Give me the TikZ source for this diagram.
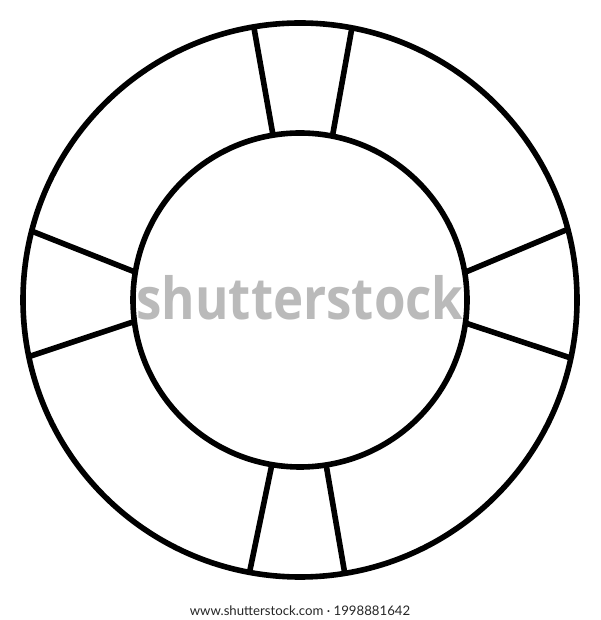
\documentclass[tikz,border=0pt]{standalone}
\usepackage{fontspec}
\newfontfamily\wmfont{Open Sans}
\newfontfamily\credfont{Lato}
\begin{document}
\begin{tikzpicture}[x=1pt,y=1pt,
  ring/.style={draw=black,line width=5.6pt},
  spoke/.style={draw=black,line width=5.6pt,line cap=butt},
  watermark/.style={text=black!27,font=\wmfont\bfseries\fontsize{58}{58}\selectfont,inner sep=0pt,xscale=0.88},
  credit/.style={text=black!85,font=\credfont\fontsize{13.2}{14}\selectfont,inner sep=0pt}]
\fill[white] (0,0) rectangle (600,620);
\useasboundingbox (0,0) rectangle (600,620);
\coordinate (c) at (300,320);
\draw[ring] (c) circle[radius=277];
\draw[ring] (c) circle[radius=167];
\foreach \n/\a/\b in {tl/99.3/99.6, tr/78.8/79.2, lu/170.4/165.6, ll/187.4/191.8,
                      ru/9.5/14.8, rl/-7.9/-12.1, bl/260.3/259.5, br/279.0/279.3}{
  \path (c) ++(\a:167) coordinate (in\n);
  \path (c) ++(\b:277) coordinate (out\n);
  \draw[spoke] (in\n) -- (out\n);
}
\node[watermark,anchor=base] (wm) at (300,300) {shutterstock};
\node[credit,anchor=base] (cred) at (300,5) {www.shutterstock.com · 1998881642};
\end{tikzpicture}
\end{document}
